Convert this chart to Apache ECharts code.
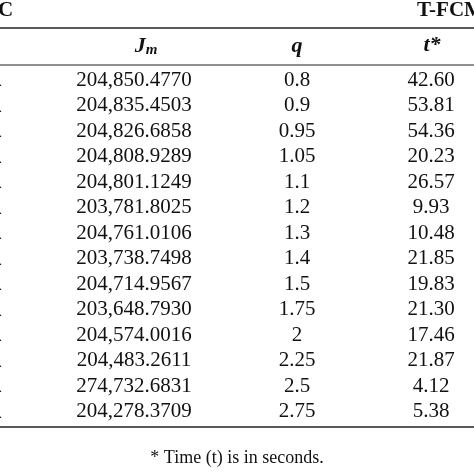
<!DOCTYPE html>
<html>
<head>
<meta charset="utf-8">
<script src="https://cdn.jsdelivr.net/npm/echarts@6/dist/echarts.min.js"></script>
<style>html,body{margin:0;padding:0;background:#fff}#main{width:474px;height:474px}</style>
</head>
<body>
<div id="main"></div>
<script>
var jmValues = ['204,850.4770','204,835.4503','204,826.6858','204,808.9289','204,801.1249','203,781.8025','204,761.0106',
	'203,738.7498','204,714.9567','203,648.7930','204,574.0016','204,483.2611','274,732.6831','204,278.3709'];
var qValues = ['0.8','0.9','0.95','1.05','1.1','1.2','1.3','1.4','1.5','1.75','2','2.25','2.5','2.75'];
var tValues = ['42.60','53.81','54.36','20.23','26.57','9.93','10.48','21.85','19.83','21.30','17.46','21.87','4.12','5.38'];
var footnote = '* Time (t) is in seconds.';

var chart = echarts.init(document.getElementById('main'));
var font = '"Liberation Serif", serif';
var els = [];
function txt(s, x, y, opt) {
	opt = opt || {};
	els.push({
		type: 'text', x: x, y: y,
		style: {
			text: s, fill: '#111', font: (opt.style || '') + ' ' + (opt.weight || 'normal') + ' ' + (opt.size || 21) + 'px ' + font,
			textAlign: opt.align || 'center', textVerticalAlign: 'middle'
		}
	});
}
function hline(y, w) {
	els.push({ type: 'line', shape: { x1: 0, y1: y, x2: 474, y2: y }, style: { stroke: '#222', lineWidth: w || 1.2 } });
}
// group titles (cut off in the original)
txt('C', -2, 11, { weight: 'bold', align: 'left' });
txt('T-FCM', 417, 11, { weight: 'bold', align: 'left' });
hline(28, 1.5);
// header
els.push({
	type: 'text', x: 146, y: 46,
	style: { rich: { a: { font: 'italic bold 22px ' + font, fill: '#111' }, b: { font: 'italic bold 15px ' + font, fill: '#111', padding: [8, 0, 0, 0] } },
		text: '{a|J}{b|m}', textAlign: 'center', textVerticalAlign: 'middle' }
});
txt('q', 297, 46, { style: 'italic', weight: 'bold', size: 22 });
txt('t*', 432, 45, { style: 'italic', weight: 'bold', size: 22 });
hline(65, 1.2);
// rows
for (var i = 0; i < jmValues.length; i++) {
	var y = 80 + i * 25.5;
	txt('.', -1, y + 3, { align: 'left', size: 12 });
	txt(jmValues[i], 134, y);
	txt(qValues[i], 297, y);
	txt(tValues[i], 431, y);
}
hline(427, 1.5);
txt(footnote, 237, 458, { size: 18 });

chart.setOption({ backgroundColor: '#fff', graphic: { elements: els } });
</script>
</body>
</html>
